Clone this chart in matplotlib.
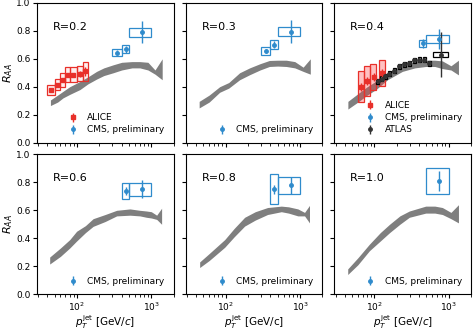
import matplotlib
matplotlib.use('Agg')
import matplotlib.pyplot as plt
from matplotlib.patches import Rectangle

# theory band (lower / upper edge) for each jet radius
band_pt_02 = [44, 55, 65, 80, 110, 140, 184, 230, 307, 400, 550, 700, 900, 1120, 1400]
band_lo_02 = [0.265, 0.29, 0.32, 0.345, 0.38, 0.42, 0.455, 0.48, 0.50, 0.52, 0.535, 0.535, 0.52, 0.49, 0.45]
band_hi_02 = [0.305, 0.34, 0.367, 0.40, 0.438, 0.47, 0.51, 0.535, 0.557, 0.575, 0.58, 0.58, 0.575, 0.52, 0.60]

band_pt_03 = [44, 60, 83, 110, 154, 210, 290, 387, 500, 653, 850, 1100, 1374]
band_lo_03 = [0.248, 0.29, 0.36, 0.39, 0.45, 0.486, 0.52, 0.545, 0.548, 0.545, 0.535, 0.51, 0.49]
band_hi_03 = [0.295, 0.34, 0.40, 0.43, 0.50, 0.535, 0.565, 0.588, 0.59, 0.59, 0.58, 0.54, 0.60]

band_pt_04 = [44, 60, 80, 105, 150, 238, 350, 490, 650, 820, 1070, 1350]
band_lo_04 = [0.24, 0.29, 0.34, 0.38, 0.45, 0.51, 0.535, 0.545, 0.545, 0.53, 0.52, 0.485]
band_hi_04 = [0.295, 0.35, 0.40, 0.44, 0.50, 0.557, 0.58, 0.59, 0.59, 0.585, 0.55, 0.59]

band_pt_06 = [43, 60, 80, 99, 130, 165, 240, 342, 516, 700, 861, 1000, 1180, 1375]
band_lo_06 = [0.215, 0.27, 0.33, 0.38, 0.44, 0.485, 0.52, 0.56, 0.565, 0.56, 0.55, 0.545, 0.535, 0.50]
band_hi_06 = [0.265, 0.33, 0.39, 0.45, 0.49, 0.54, 0.57, 0.60, 0.61, 0.60, 0.595, 0.59, 0.565, 0.615]

band_pt_08 = [44.7, 60, 97, 130, 180, 250, 366, 560, 700, 935, 1150, 1340]
band_lo_08 = [0.19, 0.24, 0.335, 0.41, 0.487, 0.53, 0.57, 0.59, 0.58, 0.56, 0.56, 0.51]
band_hi_08 = [0.23, 0.29, 0.39, 0.47, 0.55, 0.59, 0.62, 0.63, 0.625, 0.61, 0.585, 0.635]

band_pt_10 = [43.8, 60, 85.6, 120, 160, 220, 295, 490, 650, 820, 1070, 1350]
band_lo_10 = [0.14, 0.21, 0.31, 0.38, 0.44, 0.50, 0.55, 0.58, 0.58, 0.57, 0.54, 0.51]
band_hi_10 = [0.18, 0.26, 0.357, 0.44, 0.50, 0.56, 0.595, 0.63, 0.63, 0.62, 0.585, 0.64]

# CMS preliminary
cms_bins_3 = [(300, 400), (400, 500), (500, 1000)]
cms_bins_2 = [(400, 500), (500, 1000)]
cms_bins_1 = [(500, 1000)]
cms_pt_02 = [348, 451, 755]
cms_raa_02 = [0.645, 0.67, 0.79]
cms_stat_02 = [0.015, 0.025, 0.08]
cms_syst_02 = [0.024, 0.027, 0.034]
cms_pt_03 = [344, 451, 747]
cms_raa_03 = [0.657, 0.70, 0.795]
cms_stat_03 = [0.015, 0.025, 0.08]
cms_syst_03 = [0.03, 0.032, 0.03]
cms_pt_04 = [446, 746]
cms_raa_04 = [0.71, 0.743]
cms_stat_04 = [0.035, 0.07]
cms_syst_04 = [0.027, 0.027]
cms_pt_06 = [451, 755]
cms_raa_06 = [0.738, 0.75]
cms_stat_06 = [0.03, 0.065]
cms_syst_06 = [0.057, 0.045]
cms_pt_08 = [446, 747]
cms_raa_08 = [0.75, 0.78]
cms_stat_08 = [0.03, 0.06]
cms_syst_08 = [0.107, 0.06]
cms_pt_10 = [747]
cms_raa_10 = [0.81]
cms_stat_10 = [0.07]
cms_syst_10 = [0.093]

# ALICE
alice_bins_02 = [(40, 50), (50, 60), (60, 70), (70, 80), (80, 100), (100, 120), (120, 140)]
alice_pt_02 = [44.7, 54.4, 64.2, 75, 89, 110, 128]
alice_raa_02 = [0.378, 0.414, 0.45, 0.486, 0.486, 0.493, 0.51]
alice_stat_02 = [0.01, 0.012, 0.015, 0.015, 0.015, 0.02, 0.03]
alice_syst_02 = [0.036, 0.04, 0.05, 0.054, 0.054, 0.055, 0.07]
alice_bins_04 = [(60, 72), (72, 88), (88, 106), (115, 140)]
alice_pt_04 = [66, 80, 98, 127]
alice_raa_04 = [0.40, 0.44, 0.47, 0.50]
alice_stat_04 = [0.03, 0.03, 0.03, 0.03]
alice_syst_04 = [0.11, 0.107, 0.09, 0.095]

# ATLAS (R=0.4)
atlas_pt = [111, 125, 140, 159, 185, 217, 253, 295, 345, 402, 470, 548, 787]
atlas_raa = [0.438, 0.457, 0.474, 0.493, 0.514, 0.545, 0.562, 0.569, 0.588, 0.593, 0.593, 0.569, 0.629]
atlas_stat = [0.005, 0.005, 0.005, 0.005, 0.005, 0.005, 0.006, 0.006, 0.007, 0.008, 0.01, 0.015, 0.16]
atlas_syst = [0.018, 0.018, 0.018, 0.018, 0.018, 0.018, 0.018, 0.018, 0.018, 0.018, 0.018, 0.018, 0.017]
atlas_bin_wide = (620, 986)

radii = ['R=0.2', 'R=0.3', 'R=0.4', 'R=0.6', 'R=0.8', 'R=1.0']

CMS = '#2f8bcc'
ALICE = '#e8302a'
BAND = '#7f7f7f'


def boxes(ax, bins, y, syst, color, face, lw=0.9):
    for (lo, hi), v, s in zip(bins, y, syst):
        ax.add_patch(Rectangle((lo, v - s), hi - lo, 2 * s, edgecolor=color,
                               facecolor=face, lw=lw, zorder=3))


def points(ax, x, y, err, color, marker, label):
    return ax.errorbar(x, y, yerr=err, fmt=marker, color=color, ms=2.5,
                       elinewidth=1.0, capsize=0, label=label, zorder=4)


fig, axes = plt.subplots(2, 3, figsize=(4.74, 3.33), dpi=100,
                         sharex=True, sharey=True)
fig.subplots_adjust(left=0.078, right=0.994, top=0.991, bottom=0.117,
                    wspace=0.0876, hspace=0.0857)

bands = [(band_pt_02, band_lo_02, band_hi_02), (band_pt_03, band_lo_03, band_hi_03),
         (band_pt_04, band_lo_04, band_hi_04), (band_pt_06, band_lo_06, band_hi_06),
         (band_pt_08, band_lo_08, band_hi_08), (band_pt_10, band_lo_10, band_hi_10)]
cms = [(cms_bins_3, cms_pt_02, cms_raa_02, cms_stat_02, cms_syst_02),
       (cms_bins_3, cms_pt_03, cms_raa_03, cms_stat_03, cms_syst_03),
       (cms_bins_2, cms_pt_04, cms_raa_04, cms_stat_04, cms_syst_04),
       (cms_bins_2, cms_pt_06, cms_raa_06, cms_stat_06, cms_syst_06),
       (cms_bins_2, cms_pt_08, cms_raa_08, cms_stat_08, cms_syst_08),
       (cms_bins_1, cms_pt_10, cms_raa_10, cms_stat_10, cms_syst_10)]

for i, ax in enumerate(axes.flat):
    pt, lo, hi = bands[i]
    ax.fill_between(pt, lo, hi, color=BAND, lw=0, zorder=1)
    handles = []
    if i == 0:
        boxes(ax, alice_bins_02, alice_raa_02, alice_syst_02, ALICE, (1, 0.2, 0.2, 0.08))
        handles.append(points(ax, alice_pt_02, alice_raa_02, alice_stat_02, ALICE, 's', 'ALICE'))
    if i == 2:
        boxes(ax, alice_bins_04, alice_raa_04, alice_syst_04, ALICE, (1, 0.2, 0.2, 0.3))
        handles.append(points(ax, alice_pt_04, alice_raa_04, alice_stat_04, ALICE, 's', 'ALICE'))
    bins, x, y, st, sy = cms[i]
    boxes(ax, bins, y, sy, CMS, 'none')
    handles.append(points(ax, x, y, st, CMS, 'o', 'CMS, preliminary'))
    if i == 2:
        atlas_bins = [(p / 1.05, p * 1.05) for p in atlas_pt[:-1]] + [atlas_bin_wide]
        boxes(ax, atlas_bins, atlas_raa, atlas_syst, 'black', 'none')
        handles.append(points(ax, atlas_pt, atlas_raa, atlas_stat, '0.2', 'o', 'ATLAS'))
    ax.legend(handles=handles, loc='lower left', bbox_to_anchor=(0.15, 0.0),
              frameon=False, fontsize=6.5, handlelength=1.6, labelspacing=0.35)
    ax.text(0.115, 0.83, radii[i], transform=ax.transAxes, fontsize=8,
            va='center')
    ax.set_xscale('log')
    ax.set_xlim(29, 2000)
    ax.set_ylim(0, 1)
    ax.set_yticks([0, 0.2, 0.4, 0.6, 0.8, 1.0])
    ax.tick_params(labelsize=6.5, length=3, pad=1.5)
    ax.tick_params(which='minor', length=1.8)

for ax in axes[:, 0]:
    ax.set_ylabel('$R_{AA}$', fontsize=8, labelpad=1)
axes[1, 0].set_xlabel(r'$p_T^{\rm jet}$ [GeV/$c$]', fontsize=7.5, labelpad=0)
axes[1, 1].set_xlabel(r'$p_T^{\rm jet}$ [GeV/c]', fontsize=7.5, labelpad=0)
axes[1, 2].set_xlabel(r'$p_T^{\rm jet}$ [GeV/$c$]', fontsize=7.5, labelpad=0)

fig.savefig('out.png', dpi=100)
